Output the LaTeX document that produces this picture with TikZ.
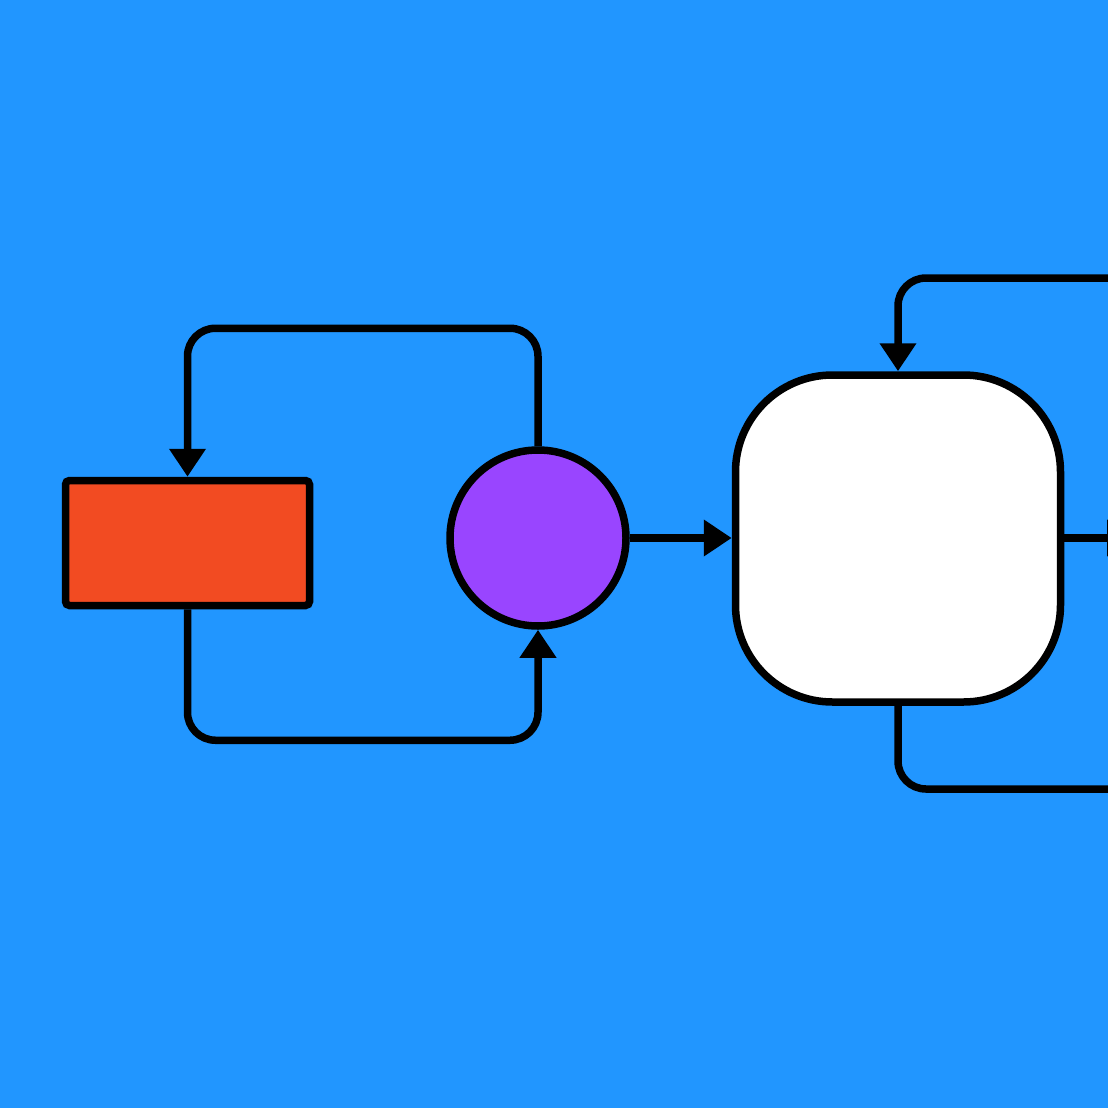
\documentclass[tikz,border=0pt]{standalone}
\usetikzlibrary{arrows.meta}
\definecolor{bgblue}{RGB}{33,150,255}
\definecolor{boxred}{RGB}{242,75,34}
\definecolor{circpurple}{RGB}{153,69,255}
\begin{document}
\begin{tikzpicture}[x=1pt,y=-1pt,
  shapebox/.style={draw=black,line width=7.5pt,inner sep=0pt},
  conn/.style={draw=black,line width=7.5pt,rounded corners=28pt,line join=round},
  tip/.style={-{Triangle[length=28pt,width=35pt]}}]
\useasboundingbox (0,0) rectangle (1108,1108);
\fill[bgblue] (0,0) rectangle (1108,1108);
\clip (0,0) rectangle (1108,1108);
\node[shapebox,fill=boxred,rounded corners=4pt,minimum width=244pt,minimum height=125pt] (r) at (187.5,543) {};
\node[shapebox,fill=circpurple,circle,minimum size=176pt] (c) at (538,538) {};
\node[shapebox,fill=white,rounded corners=97pt,minimum width=325pt,minimum height=327pt] (w) at (898,538.5) {};
\coordinate (tr) at (1130,278);
\coordinate (br) at (1130,789);
\coordinate (rr) at (1135,538);
\draw[conn,tip] (c.north) -- ++(0,-118) -| (r.north);
\draw[conn,tip] (r.south) -- ++(0,131) -| (c.south);
\draw[conn,tip] (c.east) -- (c.east -| w.west);
\draw[conn,tip] (tr) -| (w.north);
\draw[conn] (w.south) |- (br);
\draw[conn,tip] (w.east |- c.east) -- (rr);
\end{tikzpicture}
\end{document}
